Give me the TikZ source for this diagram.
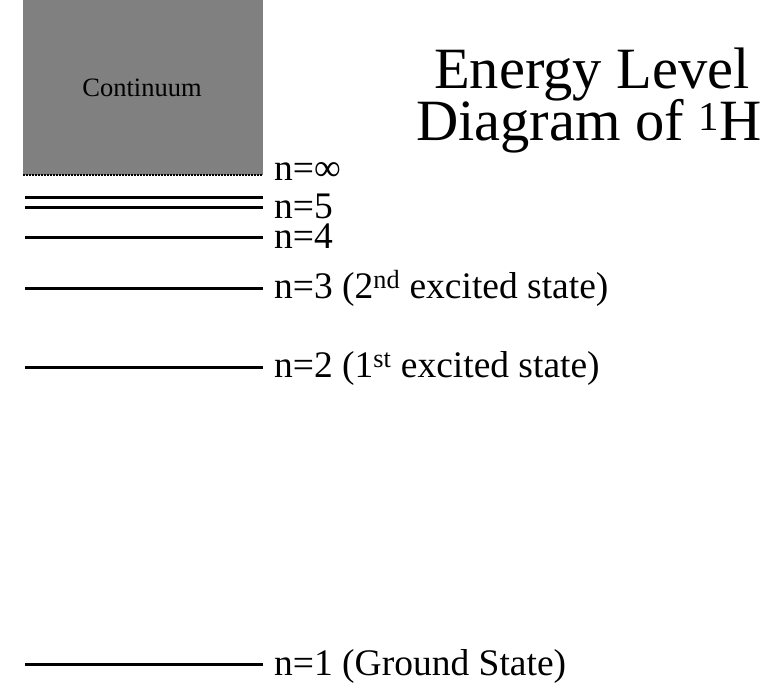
\documentclass[tikz,border=0pt]{standalone}
\usepackage{fontspec}
\setmainfont{Liberation Serif}
\begin{document}
\begin{tikzpicture}[x=1pt,y=-1pt,
  level/.style={line width=3pt},
  lbl/.style={anchor=base west,inner sep=0pt,font=\fontsize{37.5}{42}\selectfont},
  ttl/.style={anchor=base,inner sep=0pt,font=\fontsize{58.5}{62}\selectfont}]
\useasboundingbox (0,0) rectangle (778,696);
\fill[white] (0,0) rectangle (778,696);
% continuum
\node[draw=none,fill={rgb,255:red,128;green,128;blue,128},minimum width=240pt,minimum height=175pt,anchor=north west,inner sep=0pt] (cont) at (23,0) {};
\node[inner sep=0pt,font=\fontsize{26.5}{30}\selectfont] (contl) at (142,88) {Continuum};
\coordinate (infL) at (23,175);
\coordinate (infR) at (263,175);
\draw[line width=2pt,dash pattern=on 1.5pt off 1.5pt] (infL) -- (infR);
% levels
\coordinate (a5L) at (25,197); \coordinate (a5R) at (263,197);
\coordinate (b5L) at (25,207); \coordinate (b5R) at (263,207);
\coordinate (l4L) at (25,237); \coordinate (l4R) at (263,237);
\coordinate (l3L) at (25,288); \coordinate (l3R) at (263,288);
\coordinate (l2L) at (25,367); \coordinate (l2R) at (263,367);
\coordinate (l1L) at (25,664); \coordinate (l1R) at (263,664);
\draw[level] (a5L) -- (a5R);
\draw[level] (b5L) -- (b5R);
\draw[level] (l4L) -- (l4R);
\draw[level] (l3L) -- (l3R);
\draw[level] (l2L) -- (l2R);
\draw[level] (l1L) -- (l1R);
% labels
\node[lbl] (tinf) at (274,180) {n=∞};
\node[lbl] (t5) at (274,218) {n=5};
\node[lbl] (t4) at (274,248) {n=4};
\node[lbl] (t3) at (274,298) {n=3 (2\textsuperscript{nd} excited state)};
\node[lbl] (t2) at (274,377) {n=2 (1\textsuperscript{st} excited state)};
\node[lbl] (t1) at (274,675) {n=1 (Ground State)};
% title
\node[ttl] (ttl1) at (592,88) {Energy Level};
\node[ttl] (ttl2) at (589,140) {Diagram of \textsuperscript{1}H};
\end{tikzpicture}
\end{document}
